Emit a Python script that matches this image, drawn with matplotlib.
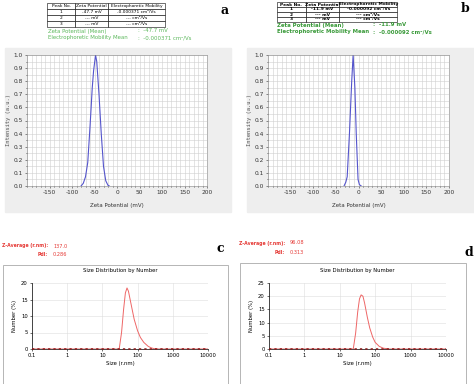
#importing the relevant modules
import matplotlib
matplotlib.use("Agg")
import matplotlib.pyplot as plt
from matplotlib.patches import Rectangle

#zeta potential curves (mV, intensity)
zeta_a_x = [-80, -75, -70, -65, -60, -55, -52, -47.7, -45, -40, -35, -30, -25, -20, -17]
zeta_a_y = [0.0, 0.02, 0.07, 0.18, 0.45, 0.75, 0.88, 1.0, 0.95, 0.7, 0.4, 0.15, 0.04, 0.005, 0.0]
zeta_b_x = [-32, -28, -25, -20, -15, -11.9, -8, -5, -1, 2, 6]
zeta_b_y = [0.0, 0.03, 0.07, 0.4, 0.8, 1.0, 0.75, 0.4, 0.05, 0.01, 0.0]

#size distribution curves (r.nm, number %)
size_c_x = [0.1, 1, 10, 30, 35, 40, 45, 50, 55, 60, 70, 80, 100, 120, 150, 200, 250, 300, 400, 1000, 10000]
size_c_y = [0, 0, 0, 0, 5, 12, 17, 18.5, 17.5, 15.5, 12, 9, 5.5, 3.5, 2, 0.8, 0.3, 0.1, 0, 0, 0]
size_d_x = [0.1, 1, 10, 24, 28, 32, 36, 40, 45, 50, 60, 70, 85, 100, 130, 170, 250, 1000, 10000]
size_d_y = [0, 0, 0, 0, 6, 14, 19, 20.5, 20, 17.5, 12, 8, 4.5, 2.5, 1, 0.3, 0, 0, 0]

#table text
table_a = [["Peak No.", "Zeta Potential", "Electrophoretic Mobility"],
           ["1", "-47.7 mV", "-0.000371 cm\u00b2/Vs"],
           ["2", "--- mV", "--- cm\u00b2/Vs"],
           ["3", "--- mV", "--- cm\u00b2/Vs"]]
table_b = [["Peak No.", "Zeta Potential", "Electrophoretic Mobility"],
           ["1", "-11.9 mV", "-0.000092 cm\u00b2/Vs"],
           ["2", "--- mV", "--- cm\u00b2/Vs"],
           ["3", "--- mV", "--- cm\u00b2/Vs"]]

W, H = 474, 384
fig = plt.figure(figsize=(W / 100, H / 100), dpi=100)

#pixel box to figure fraction
def box(x0, y0, x1, y1):
    return [x0 / W, 1 - y1 / H, (x1 - x0) / W, (y1 - y0) / H]

red = "#e53935"

#zeta panels
def zeta_panel(bg, ax_box, xs, ys, table, tbox, tx, ty, mean, mob, bold, fs, cx, green):
    fig.patches.append(Rectangle((bg[0] / W, 1 - bg[3] / H), (bg[2] - bg[0]) / W,
                                 (bg[3] - bg[1]) / H, transform=fig.transFigure,
                                 color="#eeeeee", zorder=-5))
    ax = fig.add_axes(box(*ax_box))
    ax.plot(xs, ys, color="#5555cc", lw=0.8)
    ax.set_xlim(-200, 200)
    ax.set_ylim(0, 1.0)
    ax.set_xticks([-150, -100, -50, 0, 50, 100, 150, 200])
    ax.set_xticklabels(["-150", "-100", "-50", "0", "50", "100", "150", "200"])
    ax.set_xticks(range(-200, 201, 10), minor=True)
    ax.set_yticks([i / 10 for i in range(11)])
    ax.set_yticks([i / 20 for i in range(21)], minor=True)
    ax.set_yticklabels(["%.1f" % (i / 10) for i in range(11)])
    ax.grid(True, which="both", color="#d0d0d0", lw=0.4)
    ax.tick_params(labelsize=4.2, length=1.5, width=0.4, pad=1.5, colors="#333333")
    ax.tick_params(which="minor", length=1, width=0.4)
    for s in ax.spines.values():
        s.set_linewidth(0.4)
        s.set_color("#888888")
    ax.set_ylabel("Intensity (a.u.)", fontsize=4, family="DejaVu Sans Mono", color="#555555", labelpad=2)
    ax.set_xlabel("Zeta Potential (mV)", fontsize=4, color="#333333", labelpad=6)
    tax = fig.add_axes(box(*tbox))
    tax.axis("off")
    t = tax.table(cellText=table, bbox=[0, 0, 1, 1], cellLoc="center", colWidths=[0.24, 0.28, 0.48])
    t.auto_set_font_size(False)
    for (r, c), cell in t.get_celld().items():
        cell.set_linewidth(0.4)
        cell.get_text().set_fontsize(3.2)
        if bold:
            cell.get_text().set_fontweight("bold")
    w = "bold" if bold else "normal"
    fig.text(tx / W, 1 - ty / H, "Zeta Potential (Mean)", fontsize=fs, color=green, va="center", weight=w)
    fig.text(tx / W, 1 - (ty + 7) / H, "Electrophoretic Mobility Mean", fontsize=fs, color=green, va="center", weight=w)
    fig.text(cx / W, 1 - ty / H, ":  " + mean, fontsize=fs, color=green, va="center", weight=w)
    fig.text(cx / W, 1 - (ty + 7) / H, ":  " + mob, fontsize=fs, color=green, va="center", weight=w)

zeta_panel((5, 48, 231, 212), (27, 55, 207, 186), zeta_a_x, zeta_a_y, table_a,
           (47, 3, 165, 27), 48, 31, "-47.7 mV", "-0.000371 cm\u00b2/Vs", False, 3.9, 138, "#5cb85c")
zeta_panel((247, 48, 474, 212), (268, 55, 449, 186), zeta_b_x, zeta_b_y, table_b,
           (277, 2, 397, 22), 277, 25, "-11.9 mV", "-0.000092 cm\u00b2/Vs", True, 3.9, 373, "#3a9a3a")

#size panels
def size_panel(frame, ax_box, xs, ys, ymax, zx, zy, zval, pval):
    fig.patches.append(Rectangle((frame[0] / W, 1 - frame[3] / H), (frame[2] - frame[0]) / W,
                                 (frame[3] - frame[1]) / H, transform=fig.transFigure,
                                 facecolor="white", edgecolor="#aaaaaa", lw=0.6, zorder=-5))
    ax = fig.add_axes(box(*ax_box))
    ax.plot(xs, ys, color="#ee6666", lw=0.7)
    ax.plot([0.1, 10000], [0, 0], color="#8b1a1a", lw=1.1, ls=(0, (1.5, 2)), zorder=3, clip_on=False)
    ax.set_xscale("log")
    ax.set_xlim(0.1, 10000)
    ax.set_ylim(0, ymax)
    ax.set_xticks([0.1, 1, 10, 100, 1000, 10000])
    ax.set_xticklabels(["0.1", "1", "10", "100", "1000", "10000"])
    ax.minorticks_off()
    ax.set_yticks(range(0, ymax + 1, 5))
    ax.grid(True, color="#dddddd", lw=0.4)
    ax.tick_params(labelsize=3.8, length=1.5, width=0.4, pad=1.5)
    for s in ["top", "right"]:
        ax.spines[s].set_visible(False)
    for s in ["left", "bottom"]:
        ax.spines[s].set_linewidth(0.5)
    ax.set_ylabel("Number (%)", fontsize=3.8, labelpad=3)
    ax.set_xlabel("Size (r.nm)", fontsize=3.8, labelpad=2)
    ax.set_title("Size Distribution by Number", fontsize=3.8, pad=8)
    fig.text(zx / W, 1 - zy / H, "Z-Average (r.nm):", fontsize=3.3, color=red, weight="bold", ha="right", va="center")
    fig.text((zx + 5) / W, 1 - zy / H, zval, fontsize=3.6, color=red, va="center")
    fig.text(zx / W, 1 - (zy + 9) / H, "PdI:", fontsize=3.3, color=red, weight="bold", ha="right", va="center")
    fig.text((zx + 5) / W, 1 - (zy + 9) / H, pval, fontsize=3.6, color=red, va="center")

size_panel((3, 265, 228, 384), (32, 283, 208, 349), size_c_x, size_c_y, 20, 48, 246, "137.0", "0.286")
size_panel((240, 263, 466, 384), (269, 283, 446, 349), size_d_x, size_d_y, 25, 285, 243, "96.08", "0.313")

#panel letters
for lx, ly, lt in [(225, 10, "a"), (465, 8, "b"), (220, 249, "c"), (469, 253, "d")]:
    fig.text(lx / W, 1 - ly / H, lt, fontsize=9, weight="bold", family="DejaVu Serif", ha="center", va="center")

fig.savefig("out.png", dpi=100)
